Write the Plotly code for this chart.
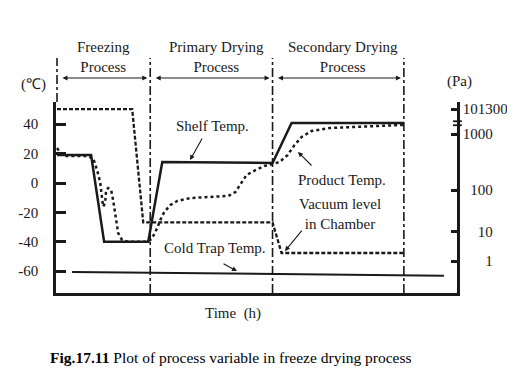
import numpy as np
import plotly.graph_objects as go

# time axis (h, arbitrary units), temperatures in degC, pressures in Pa
shelf_t = [0.1, 3.5, 4.8, 9.2, 10.6, 21.6, 23.5, 34.7]
shelf_temp = [19, 19, -40, -40, 14.3, 13.6, 40.8, 40.8]

product_t = [0.1, 0.4, 0.8, 2.9, 3.7, 4.1, 4.4, 4.7, 4.9, 5.0, 5.2, 5.5, 5.7, 5.9, 6.2, 6.6, 7.2, 9.1,
             9.4, 9.7, 10.1, 10.4, 10.8, 11.4, 12.1, 13.4, 15.4, 17.2, 17.9, 18.4, 19.0, 19.9, 20.8, 21.6,
             22.3, 23.1, 23.8, 24.5, 25.5, 27.3, 30.3, 34.7]
product_temp = [23.8, 21, 18.4, 18.4, 17, 8.8, 0.7, -16, -13.6, -4.8, -3.4, -4.8, -11.6, -21.8, -34, -38.8, -40, -40,
                -38.8, -36, -30.6, -25.2, -19.7, -15, -12.2, -10.2, -9.5, -8.8, -6.1, -0.7, 5.4, 8.8, 11.6, 12.9,
                14.3, 19, 25.9, 31.3, 35.4, 37.4, 38.1, 39.5]

vacuum_t = [0.1, 7.6, 8.7, 21.6, 22.5, 34.7]
vacuum_pa = [101300, 101300, 17, 17, 1.9, 1.9]

trap_t = [1.6, 38.7]
trap_temp = [-60.5, -63]

temp_ticks = [40, 20, 0, -20, -40, -60]
temp_labels = ["40", "20", "0", "-20", "-40", "-60"]
pa_ticks = [1, 10, 100, 1000, 101300]
pa_labels = ["\u2007\u2007\u20071", "\u2007\u200710", "\u2007100", "1000", "101300"]

phase_bounds = [0.1, 9.4, 21.6, 34.7]
phase_names = ["Freezing<br>Process", "Primary Drying<br>Process", "Secondary Drying<br>Process"]

# the pressure scale on the right is hand drawn (broken above 1000 Pa),
# so map log10(Pa) onto the temperature scale piecewise
pa_axis_pos = [-53.1, -33.3, -4.8, 33.3, 50.3]


def pa_to_axis(p):
    return np.interp(np.log10(p), np.log10(pa_ticks), pa_axis_pos)


y_range = [-74.8, 55.1]
x_range = [0, 40]
serif = "Liberation Serif"
ink = "#1a1a1a"
fs = 15


def label(text, x, y, xref="x", yref="y", size=fs, color=ink):
    fig.add_annotation(x=x, y=y, xref=xref, yref=yref, text=text, showarrow=False,
                       xanchor="center", yanchor="middle", font=dict(family=serif, size=size, color=color))


fig = go.Figure()
fig.add_trace(go.Scatter(x=shelf_t, y=shelf_temp, mode="lines", line=dict(color=ink, width=2.5)))
fig.add_trace(go.Scatter(x=product_t, y=product_temp, mode="lines", line=dict(color=ink, width=2.5, dash="dot")))
fig.add_trace(go.Scatter(x=vacuum_t, y=pa_to_axis(np.array(vacuum_pa)), mode="lines", yaxis="y2",
                         line=dict(color=ink, width=2.3, dash="4px,2px")))
fig.add_trace(go.Scatter(x=trap_t, y=trap_temp, mode="lines", line=dict(color=ink, width=2)))

# phase boundaries
for i, b in enumerate(phase_bounds):
    fig.add_shape(type="line", xref="x", yref="paper", x0=b, x1=b, y0=1 if i == 0 else 0, y1=1.23,
                  line=dict(color=ink, width=1.6, dash="dashdot"))

# phase labels with double-headed arrows
for i, name in enumerate(phase_names):
    a, b = phase_bounds[i], phase_bounds[i + 1]
    label(name, (a + b) / 2 + (0.5 if i else 0), 1.238, yref="paper")
    fig.add_annotation(x=b - 0.3, y=1.126, xref="x", yref="paper", ax=a + 0.4, ay=0, axref="x", ayref="pixel",
                       text="", showarrow=True, arrowhead=2, arrowside="end+start", arrowsize=0.9,
                       arrowwidth=1.1, arrowcolor=ink)

# curve labels
label("Shelf Temp.", 15.66, 38.8)
label("Product Temp.", 28.5, 2.0)
label("Vacuum level<br>in Chamber", 28.3, -21.4)
label("Cold Trap Temp.", 15.86, -44.2)

pointers = [
    (13.37, 15.6, 14.66, 31.3),
    (24.14, 21.1, 25.64, 10.9),
    (22.84, -46.3, 24.64, -31.3),
    (18.05, -59.9, 16.56, -54.4),
]
for x, y, ax, ay in pointers:
    fig.add_annotation(x=x, y=y, ax=ax, ay=ay, axref="x", ayref="y", text="", showarrow=True,
                       arrowhead=2, arrowsize=0.9, arrowwidth=1.1, arrowcolor=ink)

# break mark on the pressure axis
for yb in [42.0, 39.3]:
    fig.add_shape(type="line", xref="paper", yref="y", x0=0.99, x1=1.012, y0=yb, y1=yb,
                  line=dict(color=ink, width=1.8))

label("(℃)", -0.056, 1.09, xref="paper", yref="paper")
label("(Pa)", 1.005, 1.105, xref="paper", yref="paper")
label("Time  (h)", 17.66, -0.105, yref="paper")
label("<b>Fig.17.11</b> Plot of process variable in freeze drying process", 0.436, -0.34,
      xref="paper", yref="paper", size=15.5, color="#000")

# the page body adds an 8px offset, so the figure is 8px smaller than the window
fig.update_layout(
    width=507, height=367,
    margin=dict(l=48, r=58, t=94, b=82),
    plot_bgcolor="white", paper_bgcolor="white",
    showlegend=False,
    xaxis=dict(range=x_range, showgrid=False, zeroline=False, showticklabels=False, ticks="",
               showline=True, linecolor=ink, linewidth=2.5, automargin=False),
    yaxis=dict(range=y_range, showgrid=False, zeroline=False, tickvals=temp_ticks, ticktext=temp_labels,
               ticks="inside", ticklen=10, tickwidth=2.5, tickcolor=ink, showline=True, linecolor=ink,
               linewidth=2.5, automargin=False, ticklabelstandoff=12,
               tickfont=dict(family=serif, size=fs, color=ink)),
    yaxis2=dict(range=y_range, overlaying="y", side="right", showgrid=False, zeroline=False,
                tickvals=pa_to_axis(np.array(pa_ticks)), ticktext=pa_labels, ticks="inside", ticklen=6,
                tickwidth=2.5, tickcolor=ink, showline=True, linecolor=ink, linewidth=2.5, automargin=False,
                ticklabelstandoff=0, tickfont=dict(family=serif, size=fs, color=ink)),
)

fig.write_html("out.html")
